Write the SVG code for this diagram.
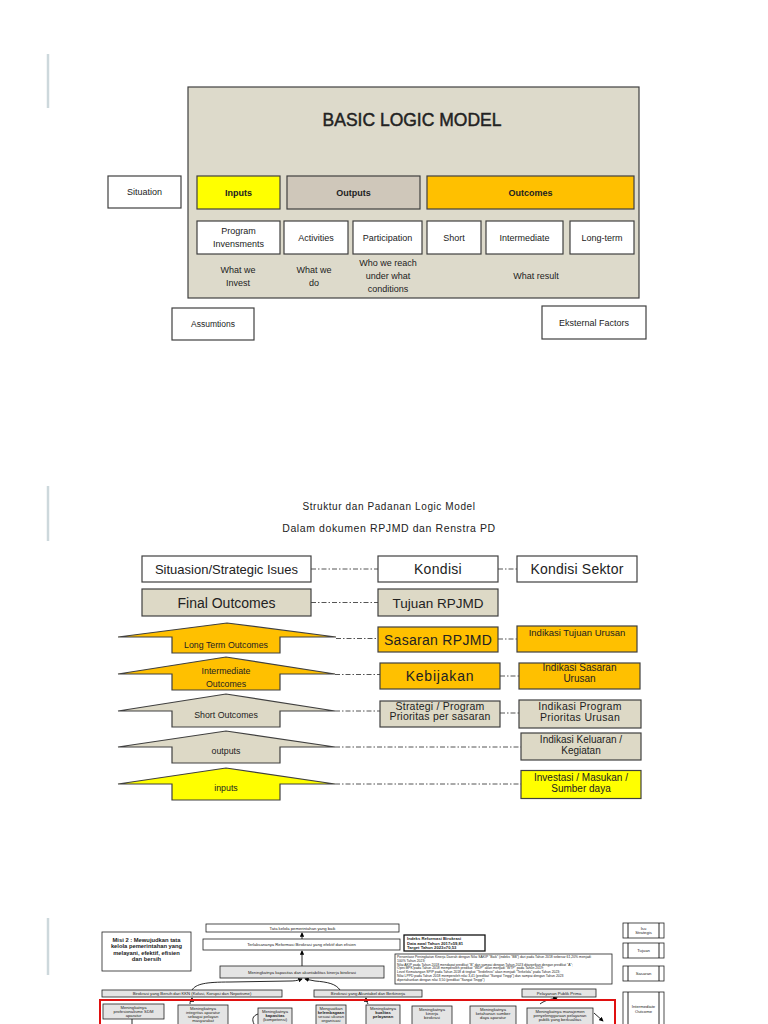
<svg xmlns="http://www.w3.org/2000/svg" width="768" height="1024" viewBox="0 0 768 1024">
<defs>
<style>
text{font-family:"Liberation Sans",Arial,sans-serif;fill:#222;text-anchor:middle}
.bx{stroke:#404040;stroke-width:1.2}
.w{fill:#fff}
.bg{fill:#dddacb}
.tan{fill:#cfc7ba}
.gold{fill:#ffc000}
.yel{fill:#ffff00}
.gr{fill:#ddd9c6}
.dd{fill:none;stroke:#555;stroke-width:1;stroke-dasharray:5 2 1.5 2}
.sep{stroke:#cdd8dc;stroke-width:2.5}
.t9{font-size:9px}
.b{font-weight:bold}
.sm{font-size:4.2px}
.tb{fill:#fff;stroke:#222;stroke-width:0.8}
.tg{fill:#e4e4e4;stroke:#222;stroke-width:0.8}
.ln{fill:none;stroke:#111;stroke-width:0.9}
</style>
<marker id="ah" viewBox="0 0 6 6" refX="5" refY="3" markerWidth="5" markerHeight="5" orient="auto"><path d="M0,0L6,3L0,6z" fill="#000"/></marker>
</defs>
<rect width="768" height="1024" fill="#fff"/>
<line class="sep" x1="48" y1="54" x2="48" y2="108"/>
<line class="sep" x1="48" y1="486" x2="48" y2="541"/>
<line class="sep" x1="48" y1="918" x2="48" y2="975"/>

<!-- ===== Basic logic model ===== -->
<g id="basic-logic-model">
<rect class="bx bg" x="188" y="87" width="451" height="211"/>
<text x="412" y="126" font-size="17.5" stroke="#222" stroke-width="0.45">BASIC LOGIC MODEL</text>
</g>
<g id="situation"><rect class="bx w" x="108" y="176" width="73" height="32"/><text class="t9" x="144.5" y="195">Situation</text></g>
<g id="inputs"><rect class="bx yel" x="197" y="176" width="83" height="33"/><text class="t9 b" x="238.5" y="195.5">Inputs</text></g>
<g id="outputs"><rect class="bx tan" x="287" y="176" width="133" height="33"/><text class="t9 b" x="353.5" y="195.5">Outputs</text></g>
<g id="outcomes"><rect class="bx gold" x="427" y="176" width="207" height="33"/><text class="t9 b" x="530.5" y="195.5">Outcomes</text></g>
<g id="program-investments"><rect class="bx w" x="197" y="221" width="83" height="33"/><text class="t9" x="238.5" y="234">Program</text><text class="t9" x="238.5" y="247">Invensments</text></g>
<g id="activities"><rect class="bx w" x="284" y="221" width="64" height="33"/><text class="t9" x="316" y="240.5">Activities</text></g>
<g id="participation"><rect class="bx w" x="353" y="221" width="69" height="33"/><text class="t9" x="387.5" y="240.5">Participation</text></g>
<g id="short"><rect class="bx w" x="427" y="221" width="54" height="33"/><text class="t9" x="454" y="240.5">Short</text></g>
<g id="intermediate"><rect class="bx w" x="486" y="221" width="77" height="33"/><text class="t9" x="524.5" y="240.5">Intermediate</text></g>
<g id="long-term"><rect class="bx w" x="570" y="221" width="64" height="33"/><text class="t9" x="602" y="240.5">Long-term</text></g>
<g id="captions">
<text class="t9" x="238" y="273">What we</text><text class="t9" x="238" y="285.5">Invest</text>
<text class="t9" x="314" y="273">What we</text><text class="t9" x="314" y="285.5">do</text>
<text class="t9" x="388" y="266">Who we reach</text><text class="t9" x="388" y="279">under what</text><text class="t9" x="388" y="292">conditions</text>
<text class="t9" x="536" y="279">What result</text>
</g>
<g id="assumtions"><rect class="bx w" x="172" y="308" width="82" height="32"/><text x="213" y="327" font-size="8.5">Assumtions</text></g>
<g id="eksternal-factors"><rect class="bx w" x="542" y="306" width="104" height="33"/><text class="t9" x="594" y="325.5">Eksternal Factors</text></g>

<!-- ===== Struktur dan Padanan ===== -->
<g id="titles">
<text x="389" y="509.5" font-size="10" letter-spacing="0.6">Struktur dan Padanan Logic Model</text>
<text x="389" y="531.5" font-size="10.5" letter-spacing="0.6">Dalam dokumen RPJMD dan Renstra PD</text>
</g>

<g id="connectors">
<line class="dd" x1="311" y1="569" x2="378" y2="569"/>
<line class="dd" x1="498" y1="569" x2="517" y2="569"/>
<line class="dd" x1="311" y1="602.5" x2="378" y2="602.5"/>
<line class="dd" x1="336" y1="638.5" x2="378" y2="638.5"/>
<line class="dd" x1="498" y1="639" x2="517" y2="639"/>
<line class="dd" x1="335" y1="674.5" x2="380" y2="674.5"/>
<line class="dd" x1="500" y1="676" x2="519" y2="676"/>
<line class="dd" x1="335" y1="711" x2="380" y2="711"/>
<line class="dd" x1="500" y1="713" x2="519" y2="713"/>
<line class="dd" x1="335" y1="747" x2="521" y2="747"/>
<line class="dd" x1="335" y1="784" x2="521" y2="784"/>
</g>

<g id="situasion-strategic-isues"><rect class="bx w" x="142" y="556" width="169" height="26"/><text x="226.5" y="573.5" font-size="13">Situasion/Strategic Isues</text></g>
<g id="kondisi"><rect class="bx w" x="378" y="556" width="120" height="26"/><text x="438" y="574" font-size="14" letter-spacing="0.3">Kondisi</text></g>
<g id="kondisi-sektor"><rect class="bx w" x="517" y="556" width="120" height="26"/><text x="577" y="574" font-size="14" letter-spacing="0.2">Kondisi Sektor</text></g>
<g id="final-outcomes"><rect class="bx gr" x="142" y="589" width="169" height="27"/><text x="226.5" y="607.5" font-size="14">Final Outcomes</text></g>
<g id="tujuan-rpjmd"><rect class="bx gr" x="378" y="589" width="120" height="27"/><text x="438" y="607.5" font-size="13.5">Tujuan RPJMD</text></g>

<g id="long-term-outcomes"><polygon class="bx gold" points="118,637 227,623 336,637 280,637 280,653 172,653 172,637"/><text x="226" y="648" font-size="8.8">Long Term Outcomes</text></g>
<g id="intermediate-outcomes"><polygon class="bx gold" points="118,674 226,657 335,674 280,674 280,690 172,690 172,674"/><text x="226" y="673.5" font-size="8.8">Intermediate</text><text x="226" y="687" font-size="8.8">Outcomes</text></g>
<g id="short-outcomes"><polygon class="bx gr" points="118,711 226,694 335,711 280,711 280,727 172,727 172,711"/><text x="226" y="717.5" font-size="8.8">Short Outcomes</text></g>
<g id="outputs-arrow"><polygon class="bx gr" points="118,747 226,731 335,747 280,747 280,763 172,763 172,747"/><text x="226" y="754" font-size="8.8">outputs</text></g>
<g id="inputs-arrow"><polygon class="bx yel" points="118,784 226,768 335,784 280,784 280,800 172,800 172,784"/><text x="226" y="791" font-size="8.8">inputs</text></g>

<g id="sasaran-rpjmd"><rect class="bx gold" x="378" y="627" width="120" height="25"/><text x="438" y="644.5" font-size="14" letter-spacing="0.3">Sasaran RPJMD</text></g>
<g id="indikasi-tujuan-urusan"><rect class="bx gold" x="517" y="626" width="120" height="26"/><text x="577" y="636" font-size="9.5">Indikasi Tujuan  Urusan</text></g>
<g id="kebijakan"><rect class="bx gold" x="380" y="663" width="120" height="26"/><text x="440" y="681" font-size="14" letter-spacing="0.8">Kebijakan</text></g>
<g id="indikasi-sasaran-urusan"><rect class="bx gold" x="519" y="663" width="121" height="26"/><text x="579.5" y="671" font-size="10">Indikasi Sasaran</text><text x="579.5" y="682" font-size="10">Urusan</text></g>
<g id="strategi-program"><rect class="bx gr" x="380" y="701" width="120" height="26"/><text x="440" y="709.5" font-size="10.5" letter-spacing="0.2">Strategi / Program</text><text x="440" y="720" font-size="10.5" letter-spacing="0.2">Prioritas per sasaran</text></g>
<g id="indikasi-program"><rect class="bx gr" x="519" y="700" width="122" height="28"/><text x="580" y="709.5" font-size="10.5" letter-spacing="0.3">Indikasi Program</text><text x="580" y="720.5" font-size="10.5" letter-spacing="0.3">Prioritas Urusan</text></g>
<g id="indikasi-keluaran"><rect class="bx gr" x="521" y="733" width="120" height="27"/><text x="581" y="743" font-size="10">Indikasi Keluaran /</text><text x="581" y="754" font-size="10">Kegiatan</text></g>
<g id="investasi"><rect class="bx yel" x="521" y="770.5" width="120" height="28"/><text x="581" y="780.5" font-size="10">Investasi / Masukan /</text><text x="581" y="791.5" font-size="10">Sumber daya</text></g>

<!-- ===== Bottom: Misi 2 ===== -->
<g id="misi-2">
<rect class="tb" x="102" y="932" width="89" height="39"/>
<text x="146.5" y="941.5" font-size="5.8" class="b">Misi 2 : Mewujudkan tata</text>
<text x="146.5" y="948" font-size="5.8" class="b">kelola pemerintahan yang</text>
<text x="146.5" y="954.5" font-size="5.8" class="b">melayani, efektif, efisien</text>
<text x="146.5" y="961" font-size="5.8" class="b">dan bersih</text>
</g>
<g id="bottom-connectors">
<line class="ln" x1="302" y1="939" x2="302" y2="933" marker-end="url(#ah)"/>
<line class="ln" x1="302" y1="966" x2="302" y2="951" marker-end="url(#ah)"/>
<path class="ln" d="M192,990 C196,984 205,982 230,982 L290,981 C296,981 299,980 302,979" marker-end="url(#ah)"/>
<path class="ln" d="M340,990 C336,984 328,982 315,981 L305,979" marker-end="url(#ah)"/>
<path class="ln" d="M190,1004 C190,1000 192,999 192,998" marker-end="url(#ah)"/>
<path class="ln" d="M368,1004 C366,1000 366,999 366,998" marker-end="url(#ah)"/>
<path class="ln" d="M540,1004 C545,1000 552,999 557,998" marker-end="url(#ah)"/>
<line class="ln" x1="132" y1="1019" x2="132" y2="1024"/>
<path class="ln" d="M258,1014 C252,1016 252,1020 254,1024"/>
<path class="ln" d="M594,1013 L603,1021" marker-end="url(#ah)"/>
</g>
<g id="tata-kelola"><rect class="tb" x="206" y="924" width="193" height="8"/><text class="sm" x="302.5" y="929.5">Tata kelola pemerintahan yang baik</text></g>
<g id="terlaksananya"><rect class="tb" x="203" y="939" width="197" height="11"/><text class="sm" x="301.5" y="946">Terlaksananya Reformasi Birokrasi yang efektif dan efisien</text></g>
<g id="indeks-rb">
<rect x="404" y="935" width="81" height="16" fill="#fff" stroke="#111" stroke-width="1.3"/>
<text class="sm b" x="407" y="940" style="text-anchor:start">Indeks Reformasi Birokrasi</text>
<text class="sm b" x="407" y="944.5" style="text-anchor:start">Data awal Tahun 2017=59,81</text>
<text class="sm b" x="407" y="949" style="text-anchor:start">Target Tahun 2023=70,53</text>
</g>
<g id="indikator">
<rect class="tb" x="395" y="954" width="217" height="30"/>
<g font-size="3.4" style="text-anchor:start">
<text x="397" y="958" style="text-anchor:start">Persentase Peningkatan Kinerja Daerah dengan Nilai SAKIP "Baik" (indeks "BB") dari pada Tahun 2018 sebesar 61,20% menjadi</text>
<text x="397" y="961.8" style="text-anchor:start">100% Tahun 2023;</text>
<text x="397" y="965.6" style="text-anchor:start">Nilai AKIP pada Tahun 2018 mendapat predikat "B" dan sampai dengan Tahun 2023 ditargetkan dengan predikat "A";</text>
<text x="397" y="969.4" style="text-anchor:start">Opini BPK pada Tahun 2018 memperoleh predikat "WDP" akan menjadi "WTP" pada Tahun 2019;</text>
<text x="397" y="973.2" style="text-anchor:start">Level Kematangan SPIP pada Tahun 2018 di tingkat "Terdefinisi" akan menjadi "Terkelola" pada Tahun 2023;</text>
<text x="397" y="977" style="text-anchor:start">Nilai LPPD pada Tahun 2018 memperoleh nilai 3,41 (predikat "Sangat Tinggi") dan sampai dengan Tahun 2023</text>
<text x="397" y="980.8" style="text-anchor:start">dipertahankan dengan nilai 3,50 (predikat "Sangat Tinggi")</text>
</g>
</g>
<g id="meningkatnya-kapasitas"><rect class="tg" x="220" y="966" width="164" height="12"/><text class="sm" x="302" y="973.5">Meningkatnya kapasitas dan akuntabilitas kinerja birokrasi</text></g>
<g id="birokrasi-bersih"><rect class="tg" x="102" y="990" width="180" height="7"/><text class="sm" x="192" y="995">Birokrasi yang Bersih dari KKN (Kolusi, Korupsi dan Nepotisme)</text></g>
<g id="birokrasi-akuntabel"><rect class="tg" x="314" y="990" width="108" height="7"/><text class="sm" x="368" y="995">Birokrasi yang Akuntabel dan Berkinerja</text></g>
<g id="pelayanan-publik"><rect class="tg" x="522" y="989" width="74" height="8"/><text class="sm" x="559" y="994.5">Pelayanan Publik Prima</text></g>
<g id="program-area"><rect x="100" y="1000" width="515" height="30" fill="none" stroke="#e01010" stroke-width="2"/></g>
<g id="sasaran-boxes">
<g id="s1"><rect class="tg" x="103" y="1004" width="61" height="15"/><text class="sm" x="133.5" y="1008.5">Meningkatnya</text><text class="sm" x="133.5" y="1012.5">profesionalisme SDM</text><text class="sm" x="133.5" y="1016.5">aparatur</text></g>
<g id="s2"><rect class="tg" x="178" y="1005" width="50" height="22"/><text class="sm" x="203" y="1009.5">Meningkatnya</text><text class="sm" x="203" y="1013.5">integritas aparatur</text><text class="sm" x="203" y="1017.5">sebagai pelayan</text><text class="sm" x="203" y="1021.5">masyarakat</text></g>
<g id="s3"><rect class="tg" x="258" y="1008" width="34" height="20"/><text class="sm" x="275" y="1012.5">Meningkatnya</text><text class="sm b" x="275" y="1016.5">kapasitas</text><text class="sm" x="275" y="1020.5">(kompetensi)</text></g>
<g id="s4"><rect class="tg" x="316" y="1005" width="30" height="22"/><text class="sm" x="331" y="1009.5">Menguatkan</text><text class="sm b" x="331" y="1013.5">kelembagaan</text><text class="sm" x="331" y="1017.5">sesuai ukuran</text><text class="sm" x="331" y="1021.5">organisasi</text></g>
<g id="s5"><rect class="tg" x="366" y="1005" width="34" height="22"/><text class="sm" x="383" y="1009.5">Meningkatnya</text><text class="sm b" x="383" y="1013.5">kualitas</text><text class="sm b" x="383" y="1017.5">pelayanan</text></g>
<g id="s6"><rect class="tg" x="412" y="1006" width="40" height="22"/><text class="sm" x="432" y="1010.5">Meningkatnya</text><text class="sm" x="432" y="1014.5">kinerja</text><text class="sm" x="432" y="1018.5">birokrasi</text></g>
<g id="s7"><rect class="tg" x="470" y="1006" width="46" height="22"/><text class="sm" x="493" y="1010.5">Meningkatnya</text><text class="sm" x="493" y="1014.5">ketahanan sumber</text><text class="sm" x="493" y="1018.5">daya aparatur</text></g>
<g id="s8"><rect class="tg" x="527" y="1008" width="66" height="20"/><text class="sm" x="560" y="1012.5">Meningkatnya manajemen</text><text class="sm" x="560" y="1016.5">penyelenggaraan pelayanan</text><text class="sm" x="560" y="1020.5">publik yang berkualitas</text></g>
</g>
<g id="legend">
<g id="isu-strategis"><rect class="tb" x="623" y="923" width="41" height="15"/><line class="ln" x1="628" y1="923" x2="628" y2="938"/><line class="ln" x1="659" y1="923" x2="659" y2="938"/><text class="sm" x="643.5" y="929.5">Isu</text><text class="sm" x="643.5" y="934">Strategis</text></g>
<g id="tujuan"><rect class="tb" x="623" y="943" width="41" height="15"/><line class="ln" x1="628" y1="943" x2="628" y2="958"/><line class="ln" x1="659" y1="943" x2="659" y2="958"/><text class="sm" x="643.5" y="952">Tujuan</text></g>
<g id="sasaran"><rect class="tb" x="623" y="966" width="41" height="15"/><line class="ln" x1="628" y1="966" x2="628" y2="981"/><line class="ln" x1="659" y1="966" x2="659" y2="981"/><text class="sm" x="643.5" y="975">Sasaran</text></g>
<g id="intermediate-outcome"><rect class="tb" x="623" y="992" width="41" height="40"/><line class="ln" x1="628" y1="992" x2="628" y2="1024"/><line class="ln" x1="659" y1="992" x2="659" y2="1024"/><text class="sm" x="643.5" y="1008">Intermediate</text><text class="sm" x="643.5" y="1012.5">Outcome</text></g>
</g>
</svg>
